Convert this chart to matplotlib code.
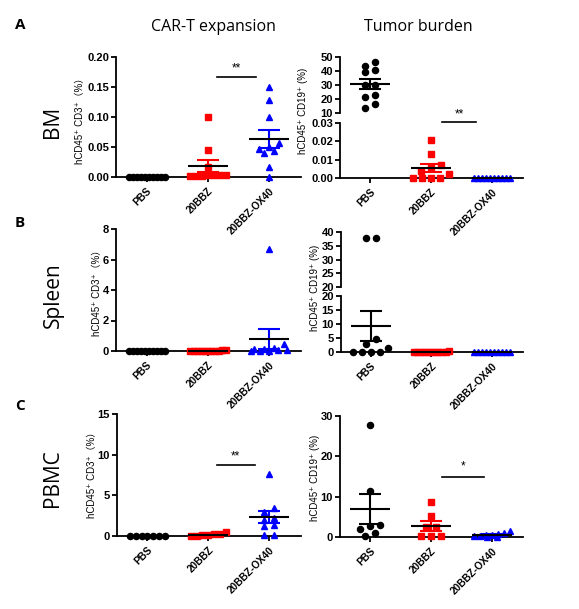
import numpy as np
import matplotlib
matplotlib.use('Agg')
import matplotlib.pyplot as plt

plt.rcParams['font.family'] = ['Liberation Sans', 'DejaVu Sans', 'Noto Sans CJK SC']

groups = ['PBS', '20BBZ', '20BBZ-OX40']
colors = ['black', '#ff0000', '#0000ff']
markers = ['o', 's', '^']

# BM
bm_cart_pbs = [0, 0, 0, 0, 0, 0, 0, 0, 0, 0]
bm_cart_bbz = [0.100, 0.045, 0.016, 0.004, 0.004, 0.003, 0.003, 0.002, 0.002, 0.001]
bm_cart_ox40 = [0.150, 0.128, 0.100, 0.056, 0.050, 0.047, 0.044, 0.040, 0.016, 0.0]
bm_tumor_pbs = [46.7, 43.6, 40.7, 39.5, 30.0, 30.0, 22.9, 21.7, 16.4, 13.8]
bm_tumor_bbz = [0.021, 0.013, 0.007, 0.006, 0.004, 0.002, 0, 0, 0, 0]
bm_tumor_ox40 = [0, 0, 0, 0, 0, 0, 0, 0, 0, 0]

# Spleen
spleen_cart_pbs = [0, 0, 0, 0, 0, 0, 0, 0, 0, 0]
spleen_cart_bbz = [0.05, 0.04, 0.03, 0.03, 0.02, 0.02, 0.01, 0.01, 0, 0, 0]
spleen_cart_ox40 = [6.7, 0.45, 0.2, 0.15, 0.1, 0.05, 0.05, 0.02, 0, 0]
spleen_tumor_pbs = [37.8, 37.8, 4.5, 2.9, 1.5, 0, 0, 0, 0]
spleen_tumor_bbz = [0.2, 0.15, 0.1, 0.1, 0.05, 0.05, 0, 0, 0, 0, 0]
spleen_tumor_ox40 = [0, 0, 0, 0, 0, 0, 0, 0, 0, 0]

# PBMC
pbmc_cart_pbs = [0, 0, 0, 0, 0, 0, 0]
pbmc_cart_bbz = [0.45, 0.2, 0.2, 0.15, 0.1, 0.05, 0.0]
pbmc_cart_ox40 = [7.6, 3.4, 2.9, 2.2, 2.0, 1.4, 1.2, 0.1, 0.1]
pbmc_tumor_pbs = [27.8, 11.5, 3.0, 2.8, 1.9, 0.9, 0.3]
pbmc_tumor_bbz = [8.6, 5.2, 2.4, 2.4, 0.3, 0.3, 0.3]
pbmc_tumor_ox40 = [1.6, 1.1, 0.8, 0.5, 0.4, 0.3, 0.2, 0.1, 0.0]

W, H = 579, 609
fig = plt.figure(figsize=(W / 100, H / 100), dpi=100)

CAT_PX = 61.5  # pixels between categories


def add_ax(x0, x1, ytop, ybot):
    return fig.add_axes([x0 / W, 1 - ybot / H, (x1 - x0) / W, (ybot - ytop) / H])


def style(ax, ylim, yticks, fmt, xaxis=True, xlim=(-0.5, 2.52)):
    ax.set_ylim(*ylim)
    ax.set_xlim(*xlim)
    ax.set_yticks(yticks)
    ax.set_yticklabels([fmt.format(t) for t in yticks], fontweight='bold', fontsize=8)
    ax.spines[['top', 'right']].set_visible(False)
    ax.spines['left'].set_linewidth(1.3)
    ax.spines['bottom'].set_linewidth(1.3)
    ax.tick_params(axis='y', width=1.3, length=3.5, pad=1.5)
    ax.patch.set_alpha(0)
    if xaxis:
        ax.set_xticks([0, 1, 2])
        ax.set_xticklabels(groups, rotation=45, ha='right', rotation_mode='anchor',
                           fontweight='bold', fontsize=7.3)
        ax.tick_params(axis='x', width=1.3, length=3.5, pad=3)
    else:
        ax.spines['bottom'].set_visible(False)
        ax.set_xticks([])


def to_px(v, segs):
    # segs: list of (ax, lo, hi, px_height), stacked from the bottom
    base = 0
    for ax, lo, hi, h in segs:
        if v <= hi:
            return base + (v - lo) / (hi - lo) * h
        base += h + 10
    return base


def offsets(vals, segs, gap_px=6.0):
    vals = np.asarray(vals, float)
    order = list(np.argsort(-vals, kind='stable'))
    px = np.array([to_px(v, segs) for v in vals])
    out = np.zeros(len(vals))
    while order:
        first = order[0]
        grp = [k for k in order if px[first] - px[k] < gap_px]
        order = [k for k in order if k not in grp]
        grp = grp[::-1]  # low values on the left
        n = len(grp)
        step = 10.0 if n < 2 else min(10.0, 36.0 / (n - 1))
        for j, k in enumerate(grp):
            out[k] = (j - (n - 1) / 2) * step / CAT_PX
    return out


def panel(segs, data):
    for i, vals in enumerate(data):
        vals = np.asarray(vals, float)
        dx = offsets(vals, segs)
        for ax, lo, hi, h in segs:
            m = (vals >= lo) & (vals <= hi)
            ax.plot(i + dx[m], vals[m], linestyle='none', marker=markers[i],
                    color=colors[i], markersize=4.4 if i == 0 else 4.6,
                    clip_on=False, zorder=3)
        mean = vals.mean()
        sem = vals.std(ddof=1) / np.sqrt(len(vals))
        for ax, lo, hi, h in segs:
            if lo <= mean <= hi:
                ax.errorbar(i, mean, yerr=sem, color=colors[i], capsize=8,
                            elinewidth=1.5, capthick=1.5, clip_on=False, zorder=4)
                ax.hlines(mean, i - 0.33, i + 0.33, color='black', lw=1.5,
                          clip_on=False, zorder=5)
                break


def sig(ax, x0, x1, y, txt, dy):
    ax.plot([x0, x1], [y, y], color='black', lw=1.2, clip_on=False)
    ax.text((x0 + x1) / 2, y + dy, txt, ha='center', va='bottom', fontsize=8.5)


LX0, LX1 = 116, 301
RX0, RX1 = 340, 523
RXLIM = (-0.49, 2.51)

# ---- Row A: BM
a1 = add_ax(LX0, LX1, 57, 177)
style(a1, (0, 0.2), [0, 0.05, 0.10, 0.15, 0.20], '{:.2f}')
panel([(a1, 0, 0.2, 120)], [bm_cart_pbs, bm_cart_bbz, bm_cart_ox40])
sig(a1, 1.15, 1.79, 0.167, '**', 0.004)

a2_hi = add_ax(RX0, RX1, 57, 113)
a2_lo = add_ax(RX0, RX1, 123, 178)
style(a2_hi, (10, 50), [10, 20, 30, 40, 50], '{:.0f}', xaxis=False, xlim=RXLIM)
style(a2_lo, (0, 0.03), [0, 0.01, 0.02, 0.03], '{:.2f}', xlim=RXLIM)
panel([(a2_lo, 0, 0.03, 55), (a2_hi, 10, 50, 56)],
      [bm_tumor_pbs, bm_tumor_bbz, bm_tumor_ox40])
sig(a2_lo, 1.18, 1.74, 0.0307, '**', 0.0008)

# ---- Row B: Spleen
b1 = add_ax(LX0, LX1, 229, 351)
style(b1, (0, 8), [0, 2, 4, 6, 8], '{:.0f}')
panel([(b1, 0, 8, 122)], [spleen_cart_pbs, spleen_cart_bbz, spleen_cart_ox40])

b2_hi = add_ax(RX0 + 1, RX1, 232, 287)
b2_lo = add_ax(RX0 + 1, RX1, 296, 352)
style(b2_hi, (20, 40), [20, 25, 30, 35, 40], '{:.0f}', xaxis=False, xlim=RXLIM)
style(b2_lo, (0, 20), [0, 5, 10, 15, 20], '{:.0f}', xlim=RXLIM)
panel([(b2_lo, 0, 20, 56), (b2_hi, 20, 40, 55)],
      [spleen_tumor_pbs, spleen_tumor_bbz, spleen_tumor_ox40])

# ---- Row C: PBMC
c1 = add_ax(LX0 + 1, LX1, 414, 536)
style(c1, (0, 15), [0, 5, 10, 15], '{:.0f}')
panel([(c1, 0, 15, 122)], [pbmc_cart_pbs, pbmc_cart_bbz, pbmc_cart_ox40])
sig(c1, 1.14, 1.76, 8.7, '**', 0.3)

c2 = add_ax(RX0, RX1, 416, 537)
style(c2, (0, 30), [0, 10, 20, 30], '{:.0f}', xlim=RXLIM)
panel([(c2, 0, 30, 121)], [pbmc_tumor_pbs, pbmc_tumor_bbz, pbmc_tumor_ox40])
sig(c2, 1.18, 1.87, 14.9, '*', 1.2)

# ---- labels
lab_cd3 = 'hCD45⁺ CD3⁺（%）'
lab_cd19 = 'hCD45⁺ CD19⁺ (%)'
for x, y, s in [(80, 118, lab_cd3), (97, 290, lab_cd3), (92, 473, lab_cd3),
                (303, 111, lab_cd19), (315, 288, lab_cd19), (315, 478, lab_cd19)]:
    fig.text(x / W, 1 - y / H, s, rotation=90, ha='center', va='center', fontsize=7)

for x, y, s in [(53, 122, 'BM'), (53, 295, 'Spleen'), (53, 478, 'PBMC')]:
    fig.text(x / W, 1 - y / H, s, rotation=90, ha='center', va='center',
             fontsize=15, family='Open Sans')

for y, s in [(25, 'A'), (223, 'B'), (406, 'C')]:
    fig.text(20 / W, 1 - y / H, s, ha='center', va='center', fontsize=11,
             fontweight='bold', family='Open Sans')

fig.text(213 / W, 1 - 27 / H, 'CAR-T expansion', ha='center', va='center',
         fontsize=11.5, family='Open Sans')
fig.text(418 / W, 1 - 27 / H, 'Tumor burden', ha='center', va='center',
         fontsize=11.5, family='Open Sans')

fig.savefig('out.png', dpi=100)
